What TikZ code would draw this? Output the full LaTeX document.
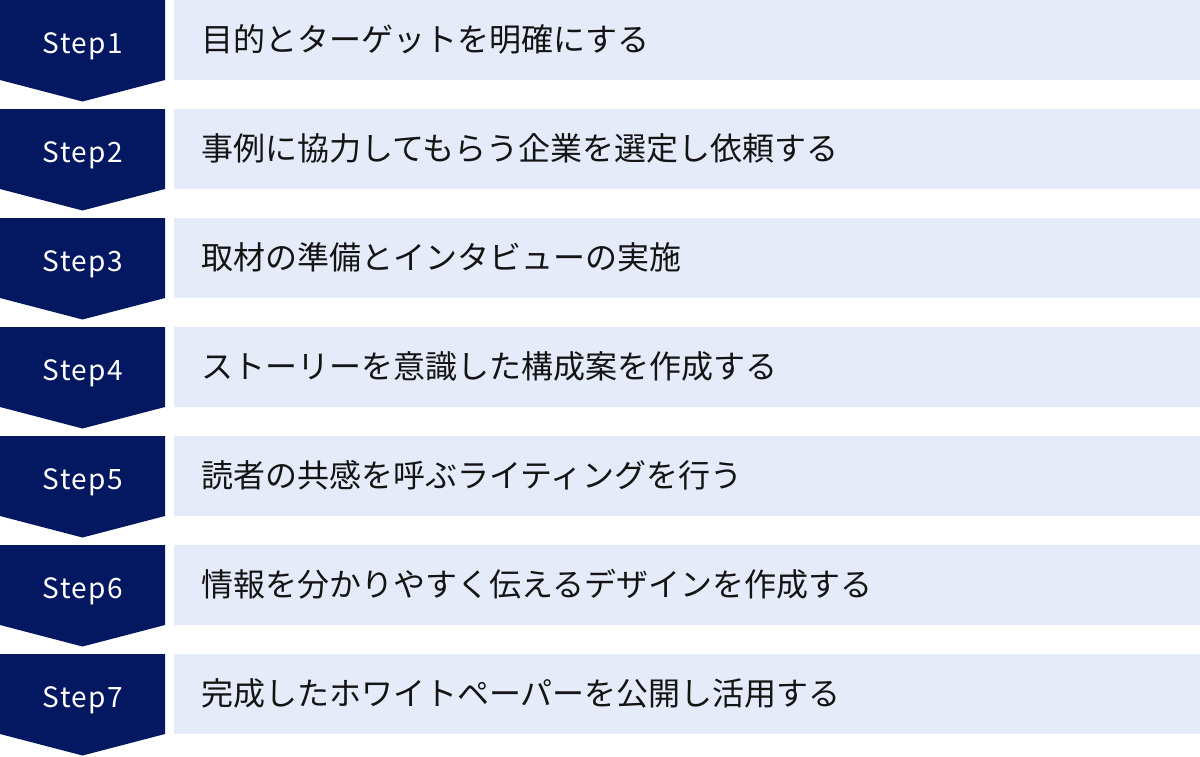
\documentclass[tikz,border=0pt]{standalone}
\usepackage{fontspec}
\newfontfamily\jp{Noto Sans CJK JP}
\newfontfamily\lab[LetterSpace=5]{Noto Sans CJK JP}
\definecolor{navy}{RGB}{4,24,98}
\definecolor{pale}{RGB}{229,235,249}
\definecolor{ink}{RGB}{20,20,20}
\begin{document}
\begin{tikzpicture}[x=1pt,y=-1pt,
  chevron/.style={fill=navy,draw=none},
  band/.style={fill=pale,draw=none},
  steplabel/.style={text=white,font=\lab\fontsize{28}{32}\selectfont,inner sep=0pt,anchor=base},
  steptext/.style={text=ink,font=\jp\fontsize{32}{36}\selectfont,inner sep=0pt,anchor=base west}]
\useasboundingbox (0,0) rectangle (1200,756);
\foreach \i/\t in {1/目的とターゲットを明確にする,
                   2/事例に協力してもらう企業を選定し依頼する,
                   3/取材の準備とインタビューの実施,
                   4/ストーリーを意識した構成案を作成する,
                   5/読者の共感を呼ぶライティングを行う,
                   6/情報を分かりやすく伝えるデザインを作成する,
                   7/完成したホワイトペーパーを公開し活用する}{
  \pgfmathsetmacro{\top}{(\i-1)*109}
  \fill[chevron] (0,\top) -- (165,\top) -- (165,\top+80) -- (82.5,\top+101.5) -- (0,\top+80) -- cycle;
  \fill[band] (174,\top) rectangle (1200,\top+80);
  \node[steplabel] (s\i) at (83,\top+53.5) {Step\i};
  \node[steptext] (t\i) at (201,\top+51.5) {\t};
}
\end{tikzpicture}
\end{document}
